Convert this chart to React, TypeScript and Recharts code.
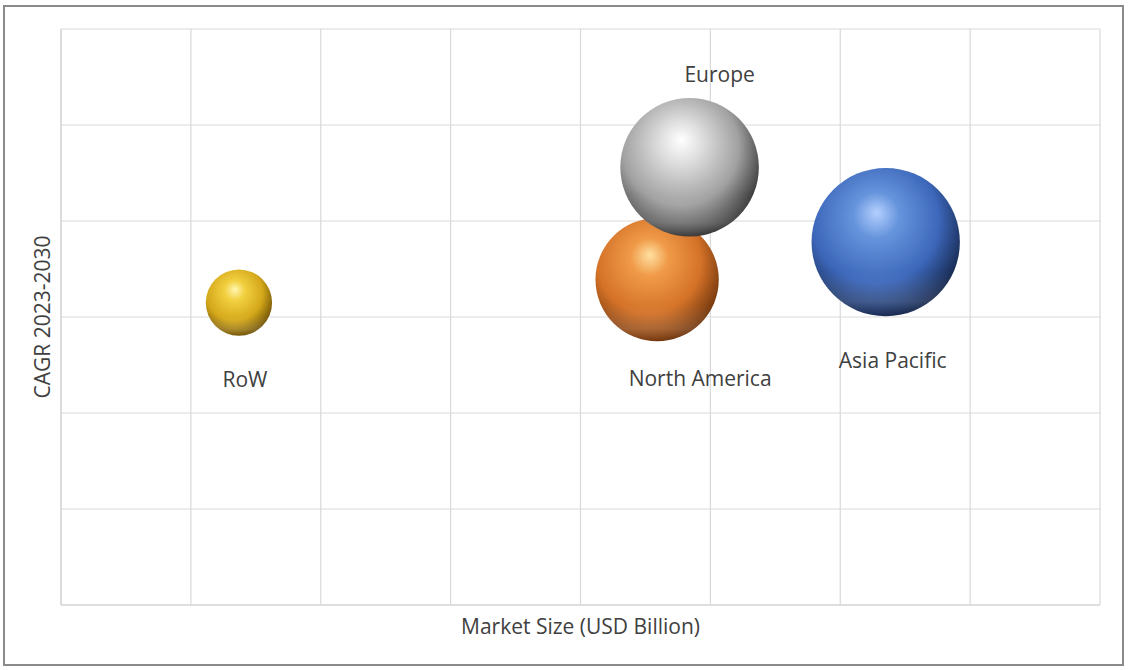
import React from 'react';
import { ScatterChart, Scatter, XAxis, YAxis, ZAxis, CartesianGrid } from 'recharts';

const regions = ['RoW', 'North America', 'Europe', 'Asia Pacific'];
const marketSize = [1.37, 4.59, 4.84, 6.35];
const cagr = [3.15, 3.39, 4.56, 3.78];
const bubbleSize = [11, 38, 48, 55];

const xTicks = [0, 1, 2, 3, 4, 5, 6, 7, 8];
const yTicks = [0, 1, 2, 3, 4, 5, 6];

const data = regions.map((name, i) => ({
    name,
    x: marketSize[i],
    y: cagr[i],
    z: bubbleSize[i],
}));

const FONT = '"Open Sans", "Noto Sans", sans-serif';

// sphere colours: highlight, light, base, dark edge
const colors: Record<string, string[]> = {
    'RoW': ['#fff6b0', '#f2d040', '#d4a81a', '#6e5006'],
    'North America': ['#ffe0a0', '#f09a48', '#d47228', '#6e340c'],
    'Europe': ['#ffffff', '#dedede', '#a0a0a0', '#333333'],
    'Asia Pacific': ['#b4d0ff', '#6694dc', '#3d68bb', '#142549'],
};

// where each data label sits relative to its bubble
const labelOffsets: Record<string, [number, number]> = {
    'RoW': [6, 76],
    'North America': [43, 98],
    'Europe': [30, -93],
    'Asia Pacific': [7, 118],
};

const gradId = (name: string) => 'g-' + name.replace(/\s+/g, '');

const Bubble = (props: any) => {
    const { cx, cy, payload } = props;
    const r = props.width ? props.width / 2 : Math.sqrt((props.size || 0) / Math.PI);
    const [dx, dy] = labelOffsets[payload.name];
    return (
        <g>
            <circle cx={cx} cy={cy} r={r} fill={`url(#${gradId(payload.name)})`} />
            <circle cx={cx} cy={cy} r={r} fill="url(#reflect)" />
            <text
                x={cx + dx}
                y={cy + dy}
                textAnchor="middle"
                dominantBaseline="central"
                fontFamily={FONT}
                fontSize={21}
                fill="#404040"
            >
                {payload.name}
            </text>
        </g>
    );
};

const XTitle = (props: any) => {
    const vb = props.viewBox;
    return (
        <text x={vb.x + vb.width / 2} y={vb.y + 21} textAnchor="middle" dominantBaseline="central"
              fontFamily={FONT} fontSize={21} fill="#404040">
            Market Size (USD Billion)
        </text>
    );
};

const YTitle = (props: any) => {
    const vb = props.viewBox;
    const x = vb.x + vb.width - 19;
    const y = vb.y + vb.height / 2;
    return (
        <text x={x} y={y} textAnchor="middle" dominantBaseline="central" transform={`rotate(-90 ${x} ${y})`}
              fontFamily={FONT} fontSize={21} fill="#404040">
            CAGR 2023-2030
        </text>
    );
};

const NoTick = () => <g />;

const App = () => (
    <div style={{ position: 'absolute', left: 0, top: 0, width: 1128, height: 670, background: '#fff' }}>
        <div style={{ position: 'absolute', left: 3, top: 5, width: 1117, height: 657, border: '2px solid #8a8a8a' }} />
        <div style={{ position: 'absolute', left: 0, top: 0 }}>
            <ScatterChart width={1128} height={670} margin={{ top: 29, right: 28, left: 0, bottom: 0 }}>
                <defs>
                    {regions.map((name) => (
                        <radialGradient key={name} id={gradId(name)} cx="0.43" cy="0.38" r="0.64" fx="0.44" fy="0.3">
                            <stop offset="0%" stopColor={colors[name][0]} />
                            <stop offset="24%" stopColor={colors[name][1]} />
                            <stop offset="66%" stopColor={colors[name][2]} />
                            <stop offset="100%" stopColor={colors[name][3]} />
                        </radialGradient>
                    ))}
                    <linearGradient id="reflect" x1="0" y1="0" x2="0" y2="1">
                        <stop offset="70%" stopColor="#ffffff" stopOpacity={0} />
                        <stop offset="90%" stopColor="#ffffff" stopOpacity={0.12} />
                        <stop offset="100%" stopColor="#ffffff" stopOpacity={0} />
                    </linearGradient>
                </defs>
                <CartesianGrid stroke="#d9d9d9" strokeWidth={1.2} />
                <XAxis
                    type="number"
                    dataKey="x"
                    domain={[0, 8]}
                    ticks={xTicks}
                    tick={NoTick}
                    tickLine={false}
                    axisLine={{ stroke: '#d0d0d0' }}
                    height={65}
                    label={<XTitle />}
                />
                <YAxis
                    type="number"
                    dataKey="y"
                    domain={[0, 6]}
                    ticks={yTicks}
                    tick={NoTick}
                    tickLine={false}
                    axisLine={{ stroke: '#d0d0d0' }}
                    width={61}
                    label={<YTitle />}
                />
                <ZAxis type="number" dataKey="z" domain={[0, 60]} range={[0, 18850]} />
                <Scatter data={data} shape={Bubble} isAnimationActive={false} />
            </ScatterChart>
        </div>
    </div>
);

export default App;
